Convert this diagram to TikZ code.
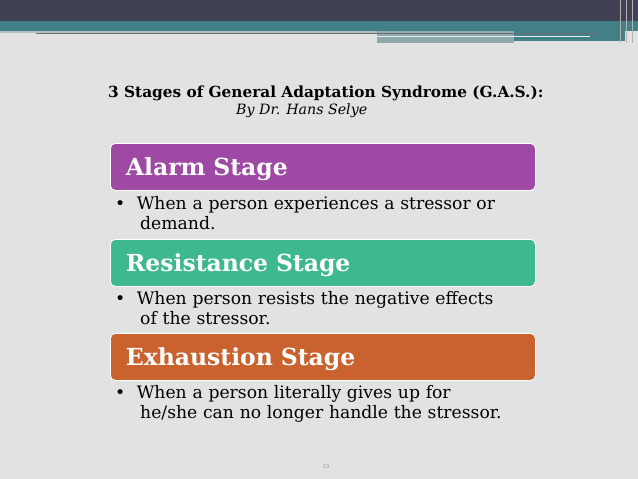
\documentclass[tikz,border=0pt]{standalone}
\usepackage{fontspec}
\setmainfont{DejaVu Serif}
\definecolor{bg}{HTML}{E2E2E2}
\definecolor{dark}{HTML}{414155}
\definecolor{teal}{HTML}{437F87}
\definecolor{grayteal}{HTML}{8FA9AD}
\definecolor{alarm}{HTML}{9E4AA5}
\definecolor{resist}{HTML}{3DB88F}
\definecolor{exhaust}{HTML}{C9622E}
\tikzset{
  head/.style={draw=white, line width=0.8pt, rounded corners=5pt, minimum width=425pt, minimum height=47pt, text width=410pt, align=left, anchor=north west, text=white, font=\fontsize{23.5}{26}\selectfont\bfseries, inner sep=0pt, text depth=0pt},
  body/.style={anchor=north west, text width=430pt, align=left, font=\fontsize{17.2}{20}\selectfont, inner sep=0pt},
}
\begin{document}
\begin{tikzpicture}[x=1pt,y=-1pt]
\fill[bg] (0,0) rectangle (638,479);
\useasboundingbox (0,0) rectangle (638,479);
\fill[dark] (0,0) rectangle (638,21);
\fill[teal] (0,21) rectangle (638,31);
\fill[teal] (377,31) rectangle (625,41);
\fill[grayteal] (377,31) rectangle (514,43);
\fill[grayteal!60!bg] (0,31) rectangle (377,33);
\draw[gray!70!dark, line width=1pt] (36,33) -- (600,33);
\draw[white!85!teal, line width=0.8pt] (377,36) -- (590,36);
\draw[gray!60, line width=0.7pt] (620,0) -- (620,43) (626,0)--(626,43) (632,0)--(632,43);
\node[anchor=west, font=\fontsize{15.3}{17}\selectfont\bfseries, inner sep=0pt] (title) at (108,93) {3 Stages of General Adaptation Syndrome (G.A.S.):};
\node[anchor=west, font=\fontsize{14.2}{16}\selectfont\itshape, inner sep=0pt] (sub) at (236,111) {By Dr. Hans Selye};
\node[head, fill=alarm] (a) at (110,143) {\hspace*{8pt}Alarm Stage};
\node[body] (ab) at (115,196) {\textbullet\ \ When a person experiences a stressor or\\\hspace*{25pt}demand.};
\node[head, fill=resist] (r) at (110,239) {\hspace*{8pt}Resistance Stage};
\node[body] (rb) at (115,291) {\textbullet\ \ When person resists the negative effects\\\hspace*{25pt}of the stressor.};
\node[head, fill=exhaust] (e) at (110,333) {\hspace*{8pt}Exhaustion Stage};
\node[body] (eb) at (115,385) {\textbullet\ \ When a person literally gives up for\\\hspace*{25pt}he/she can no longer handle the stressor.};
\node[font=\fontsize{5}{6}\selectfont, text=gray] (pg) at (326,467) {13};
\end{tikzpicture}
\end{document}
